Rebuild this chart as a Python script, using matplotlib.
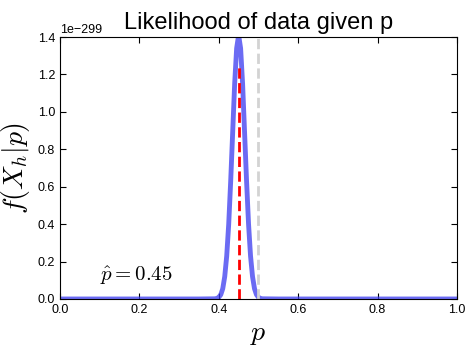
import matplotlib
matplotlib.use("Agg")
import matplotlib.pyplot as plt

plt.rcParams['font.family'] = ['Liberation Sans', 'DejaVu Sans']
plt.rcParams['mathtext.fontset'] = 'cm'

# data (likelihood in units of 1e-299)
p_grid = [0.0, 0.35, 0.39, 0.395, 0.40, 0.405, 0.41, 0.415, 0.42, 0.425, 0.43,
          0.435, 0.44, 0.445, 0.45, 0.455, 0.46, 0.465, 0.47, 0.475, 0.48,
          0.485, 0.49, 0.495, 0.50, 0.505, 0.51, 0.55, 1.0]
likelihood = [0.0, 0.0, 0.001, 0.003, 0.009, 0.023, 0.055, 0.12, 0.23, 0.40, 0.63,
              0.89, 1.15, 1.34, 1.41, 1.34, 1.15, 0.89, 0.63, 0.40, 0.23,
              0.12, 0.055, 0.023, 0.009, 0.003, 0.001, 0.0, 0.0]
p_hat = 0.45
p_hat_height = 1.25
p_true = 0.5
y_ticks = [0.0, 0.2, 0.4, 0.6, 0.8, 1.0, 1.2, 1.4]
x_ticks = [0.0, 0.2, 0.4, 0.6, 0.8, 1.0]
offset_label = '1e\u2212299'

fig = plt.figure(figsize=(4.74, 3.53), dpi=100)
ax = fig.add_axes([0.1266, 0.153, 0.8374, 0.742])

ax.plot(p_grid, likelihood, color='#3a3af0', alpha=0.75, lw=3.5)
ax.vlines(p_hat, 0, p_hat_height, colors='red', linestyles='--', lw=2)
ax.axvline(p_true, color='lightgray', ls='--', lw=2)

ax.set_xlim(0, 1)
ax.set_ylim(0, 1.4)
ax.set_xticks(x_ticks)
ax.set_xticklabels([f'{t:.1f}' for t in x_ticks])
ax.set_yticks(y_ticks)
ax.set_yticklabels([f'{t:.1f}' for t in y_ticks])
ax.tick_params(direction='in', top=True, right=True, labelsize=9, length=4)
ax.text(0.0, 1.005, offset_label, transform=ax.transAxes, fontsize=9,
        ha='left', va='bottom')

ax.text(0.1, 0.095, r'$\hat{p} = 0.45$', fontsize=15)
ax.set_title('Likelihood of data given p', fontsize=17)
ax.set_xlabel(r'$p$', fontsize=20)
ax.set_ylabel(r'$f(X_h|p)$', fontsize=20)

fig.savefig('out.png', dpi=100)
